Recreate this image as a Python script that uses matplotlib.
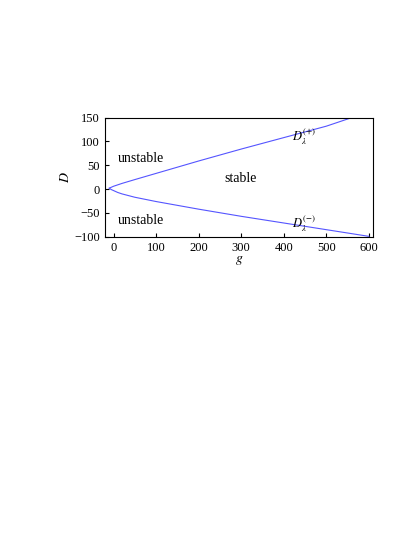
import matplotlib
matplotlib.use("Agg")
import matplotlib.pyplot as plt

plt.rcParams['font.family'] = ['Liberation Serif']
plt.rcParams['mathtext.fontset'] = 'stix'

g_upper = [-10, -5, 0, 10, 20, 50, 100, 200, 300, 400, 500, 560]
D_upper = [2, 4, 6, 9, 12, 20, 33, 59, 84, 108, 132, 150]
g_lower = [-10, -5, 0, 10, 20, 50, 100, 200, 300, 400, 500, 600]
D_lower = [2, -1, -3, -7, -10, -17, -26, -42, -57, -71, -85, -99]

fig = plt.figure(figsize=(4.15, 5.37), dpi=100)
ax = fig.add_axes([0.253, 0.559, 0.646, 0.222])
ax.plot(g_upper, D_upper, color='#5555ff', lw=0.8)
ax.plot(g_lower, D_lower, color='#5555ff', lw=0.8)
ax.set_xlim(-20, 610)
ax.set_ylim(-100, 150)
ax.set_xticks(range(0, 601, 100))
ax.set_yticks(range(-100, 151, 50))
ax.tick_params(labelsize=9, direction='in', length=3)
ax.set_xlabel('$g$', fontsize=10, labelpad=0)
ax.set_ylabel('$D$', fontsize=10, labelpad=2)
ax.text(10, 65, 'unstable', fontsize=10, va='center')
ax.text(10, -65, 'unstable', fontsize=10, va='center')
ax.text(260, 23, 'stable', fontsize=10, va='center')
ax.text(420, 110, r'$D_\lambda^{(+)}$', fontsize=9, va='center')
ax.text(420, -72, r'$D_\lambda^{(-)}$', fontsize=9, va='center')
fig.savefig('out.png', dpi=100)
